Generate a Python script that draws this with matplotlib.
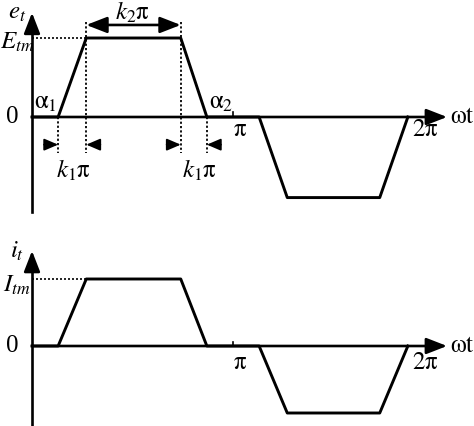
import numpy as np
import matplotlib
matplotlib.use('Agg')
import matplotlib.pyplot as plt

plt.rcParams['font.family'] = ['Liberation Serif', 'DejaVu Serif']
plt.rcParams['mathtext.fontset'] = 'stix'

# waveform corners, x in units of pi
wave_x = [0, 0.13, 0.27, 0.74, 0.87, 1.13, 1.27, 1.73, 1.87]
e_wave = [0, 0, 1, 1, 0, 0, -1.02, -1.02, 0]
i_wave = [0, 0, 1, 1, 0, 0, -1, -1, 0]
k1_marks = [0.13, 0.27, 0.74, 0.87]
x_tick_labels = [r'$\mathrm{\pi}$', r'$2\mathrm{\pi}$']
x_tick_pos = [1.035, 1.955]

fs = 18
ink = 'black'

fig = plt.figure(figsize=(4.74, 4.26), dpi=100)
ax1 = fig.add_axes([0, (426 - 220) / 426, 1, 220 / 426])
ax2 = fig.add_axes([0, 0, 1, 225 / 426])

xlim = (-32 / 201, (474 - 32) / 201)
ax1.set_xlim(*xlim)
ax1.set_ylim(-103 / 79, 117 / 79)
ax2.set_xlim(*xlim)
ax2.set_ylim(-80 / 67, 145 / 67)

arr = dict(arrowstyle='-|>,head_length=0.9,head_width=0.35', lw=1.9, color=ink,
           shrinkA=0, shrinkB=0, mutation_scale=14)


def draw_axes(ax, ytop, ybot, ylab, mlab, ylab_y, mlab_y):
    ax.axis('off')
    # y axis with arrow
    ax.plot([0, 0], [ybot, ytop - 0.1], color=ink, lw=1.9, clip_on=False)
    ax.annotate('', xy=(0, ytop), xytext=(0, ytop - 0.2), arrowprops=arr,
                annotation_clip=False)
    # x axis with arrow
    ax.annotate('', xy=(2.065, 0), xytext=(0, 0), arrowprops=arr,
                annotation_clip=False)
    # small tick at pi
    ax.plot([0.998, 0.998], [0, 0.06], color=ink, lw=1.2)
    ax.text(-0.1, 0, '0', fontsize=fs, ha='center', va='center')
    ax.text(2.08, 0, r'$\mathrm{\omega t}$', fontsize=fs, ha='left', va='center')
    ax.text(-0.075, ylab_y, ylab, fontsize=fs, ha='center', va='center')
    ax.text(-0.075, mlab_y, mlab, fontsize=fs, ha='center', va='center')


# ---- top: e_t ----
draw_axes(ax1, 1.32, -1.2, r'$e_t$', r'$E_{tm}$', 1.32, 0.95)
ax1.plot(wave_x, e_wave, color=ink, lw=2.1)
ax1.plot([0, 0.27], [1, 1], color=ink, lw=1.2, ls=(0, (1.2, 1.2)))
for xm in k1_marks:
    top = 1.2 if xm in (0.27, 0.74) else 0
    ax1.plot([xm, xm], [top, -0.45], color=ink, lw=1.3, ls=(0, (1.2, 1.2)))
ax1.annotate('', xy=(0.27, 1.165), xytext=(0.74, 1.165),
             arrowprops=dict(arrowstyle='<|-|>,head_length=0.9,head_width=0.35',
                             lw=1.9, color=ink, shrinkA=0, shrinkB=0,
                             mutation_scale=14))
ax1.text(0.5, 1.33, r'$k_2\mathrm{\pi}$', fontsize=fs, ha='center', va='center')
# small arrows pointing at the k1 lines
for xa, xb in [(0.06, 0.13), (0.34, 0.27), (0.67, 0.74), (0.94, 0.87)]:
    ax1.annotate('', xy=(xb, -0.35), xytext=(xa, -0.35),
                 arrowprops=dict(arrowstyle='-|>,head_length=0.7,head_width=0.3',
                                 lw=1.3, color=ink, shrinkA=0, shrinkB=0,
                                 mutation_scale=12))
ax1.text(0.205, -0.68, r'$k_1\mathrm{\pi}$', fontsize=fs, ha='center', va='center')
ax1.text(0.835, -0.68, r'$k_1\mathrm{\pi}$', fontsize=fs, ha='center', va='center')
ax1.text(0.065, 0.18, r'$\mathrm{\alpha}_1$', fontsize=fs, ha='center', va='center')
ax1.text(0.94, 0.18, r'$\mathrm{\alpha}_2$', fontsize=fs, ha='center', va='center')
for lab, xp in zip(x_tick_labels, x_tick_pos):
    ax1.text(xp, -0.17, lab, fontsize=fs, ha='center', va='center')

# ---- bottom: i_t ----
draw_axes(ax2, 1.42, -1.25, r'$i_t$', r'$I_{tm}$', 1.42, 0.9)
ax2.plot(wave_x, i_wave, color=ink, lw=2.1)
ax2.plot([0, 0.27], [1, 1], color=ink, lw=1.2, ls=(0, (1.2, 1.2)))
for lab, xp in zip(x_tick_labels, x_tick_pos):
    ax2.text(xp, -0.25, lab, fontsize=fs, ha='center', va='center')

fig.savefig('out.png', dpi=100)
